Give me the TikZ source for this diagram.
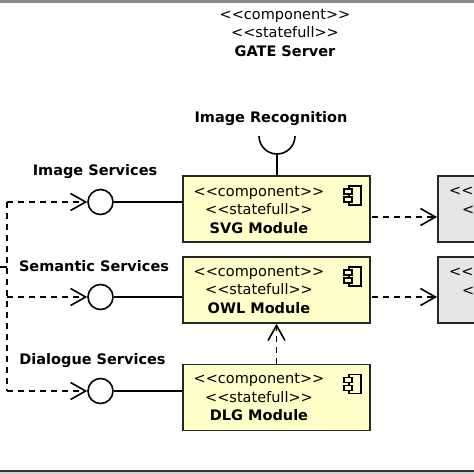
\documentclass[tikz,border=0pt]{standalone}
\usepackage{fontspec}
\setmainfont{DejaVu Sans}
\usetikzlibrary{arrows.meta,calc}
\definecolor{compyellow}{HTML}{FFFFCA}
\definecolor{compgray}{HTML}{E6E6E6}
\newcommand\ltlt{\textless\kern0pt\textless}
\newcommand\gtgt{\textgreater\kern0pt\textgreater}
\newcommand\stcomp{\ltlt component\gtgt}
\newcommand\ststate{\ltlt statefull\gtgt}
\tikzset{
  compbox/.style={draw=black!85, line width=1.8pt, fill=compyellow, minimum width=187pt, minimum height=66pt, inner sep=0pt},
  graybox/.style={compbox, fill=compgray},
  iface/.style={circle, draw, line width=1.6pt, fill=white, minimum size=25pt, inner sep=0pt},
  conn/.style={line width=1.6pt},
  dashline/.style={line width=1.6pt, dash pattern=on 6pt off 5pt},
  dep/.style={dashline, -{Straight Barb[length=15pt,width=17pt]}},
  stereo/.style={font=\fontsize{14.5}{18.5}\selectfont, align=center, inner sep=0pt},
  lbl/.style={font=\fontsize{14.5}{18}\selectfont\bfseries, inner sep=0pt},
  icon/.style={line width=1.3pt, fill=compyellow}
}
\begin{document}
\begin{tikzpicture}[x=1pt,y=-1pt]
\useasboundingbox (0,0) rectangle (474,474);
\clip (0,0) rectangle (474,474);
% frame bands
\fill[black!45] (0,0) rectangle (474,2.5);
\fill[black!80] (0,469.5) rectangle (474,471.5);
\fill[black!18] (0,471.5) rectangle (474,474);

% title
\node[stereo] (title) at (285,33) {\stcomp\\\ststate\\\textbf{GATE Server}};

% boxes
\node[compbox] (svg) at (276.5,209) {};
\node[compbox] (owl) at (276.5,290) {};
\node[compbox] (dlg) at (276.5,397.5) {};
\node[stereo] (svgt) at (259,210) {\stcomp\\\ststate\\\textbf{SVG Module}};
\node[stereo] (owlt) at (259,290) {\stcomp\\\ststate\\\textbf{OWL Module}};
\node[stereo] (dlgt) at (259,397.5) {\stcomp\\\ststate\\\textbf{DLG Module}};

% component icons
\foreach \b in {svg,owl,dlg}{
  \begin{scope}[shift={(\b.north east)}]
    \draw[icon] (-22,11) rectangle (-10,30);
    \draw[icon] (-27,14) rectangle (-19,19);
    \draw[icon] (-27,22) rectangle (-19,27);
  \end{scope}
}

% gray boxes at right
\node[graybox] (g1) at (531.5,209) {};
\node[graybox] (g2) at (531.5,290) {};
\node[stereo, anchor=west] (g1a) at (449,191) {\ltlt};
\node[stereo, anchor=west] (g1b) at (462,210) {\textless};
\node[stereo, anchor=west] (g2a) at (449,272) {\ltlt};
\node[stereo, anchor=west] (g2b) at (462,291) {\textless};

% provided interfaces
\node[iface] (c1) at (100.5,202) {};
\node[iface] (c2) at (100.5,297) {};
\node[iface] (c3) at (100.5,391) {};
\draw[conn] (c1.east) -- (c1.east -| svg.west);
\draw[conn] (c2.east) -- (c2.east -| owl.west);
\draw[conn] (c3.east) -- (c3.east -| dlg.west);

\node[lbl] (l1) at (95,172) {Image Services};
\node[lbl] (l2) at (94,266) {Semantic Services};
\node[lbl] (l3) at (92.5,361) {Dialogue Services};

% required interface (socket)
\coordinate (sk) at (277,136);
\draw[conn] ($(sk)+(-18,0)$) arc[start angle=180,end angle=360,radius=18pt];
\draw[conn] ($(sk)+(0,18)$) -- (svg.north -| sk);
\node[lbl] (ir) at (271,119) {Image Recognition};

% left dependencies
\coordinate (L1) at (7,202);
\coordinate (L2) at (7,297);
\coordinate (L3) at (7,391);
\coordinate (T0) at (0,267);
\coordinate (T1) at (7,267);
\draw[dashline] (L1) -- (L3);
\draw[conn] (T0) -- (T1);
\draw[dep] (L1) -- (c1.west);
\draw[dep] (L2) -- (c2.west);
\draw[dep] (L3) -- (c3.west);

% right dependencies
\draw[dep] ($(svg.east)+(1,8)$) -- ($(g1.west)+(0,8)$);
\draw[dep] (c2 -| owl.east) ++(1,0) -- (c2 -| g2.west);
\draw[dep] (dlg.north) -- (owl.south);
\end{tikzpicture}
\end{document}
